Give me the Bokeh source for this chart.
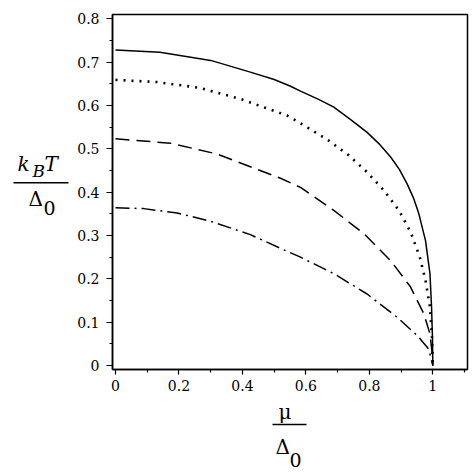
from bokeh.plotting import figure
from bokeh.models import FixedTicker, Range1d
from bokeh.layouts import row, column
from bokeh.core.properties import value
from bokeh.embed import file_html
from bokeh.resources import INLINE

# ---- data ----
mu_solid = [0, 0.14, 0.30, 0.425, 0.50, 0.55, 0.583, 0.64, 0.688, 0.74, 0.793, 0.83, 0.867, 0.895, 0.919, 0.94, 0.956, 0.977, 0.991, 0.996, 0.999, 1.0]
T_solid = [0.728, 0.723, 0.704, 0.677, 0.660, 0.645, 0.633, 0.614, 0.596, 0.568, 0.538, 0.512, 0.481, 0.452, 0.419, 0.385, 0.350, 0.288, 0.212, 0.135, 0.06, 0.0]

mu_dot = [0, 0.131, 0.263, 0.394, 0.54, 0.583, 0.672, 0.735, 0.793, 0.846, 0.893, 0.930, 0.959, 0.977, 0.991, 0.997, 1.0]
T_dot = [0.659, 0.654, 0.641, 0.615, 0.577, 0.559, 0.519, 0.485, 0.446, 0.404, 0.358, 0.308, 0.250, 0.196, 0.135, 0.07, 0.0]

mu_dash = [0, 0.173, 0.32, 0.52, 0.583, 0.688, 0.783, 0.867, 0.930, 0.972, 0.991, 0.998, 1.0]
T_dash = [0.523, 0.513, 0.488, 0.432, 0.411, 0.358, 0.304, 0.242, 0.181, 0.119, 0.073, 0.027, 0.0]

mu_dashdot = [0, 0.089, 0.194, 0.299, 0.425, 0.533, 0.583, 0.688, 0.793, 0.888, 0.951, 0.987, 1.0]
T_dashdot = [0.364, 0.362, 0.352, 0.333, 0.302, 0.266, 0.250, 0.212, 0.165, 0.111, 0.069, 0.038, 0.0]

x_ticks = [0, 0.2, 0.4, 0.6, 0.8, 1]
x_tick_labels = ["0", "0.2", "0.4", "0.6", "0.8", "1"]
x_minor = [0.1, 0.3, 0.5, 0.7, 0.9, 1.1]
y_ticks = [0, 0.1, 0.2, 0.3, 0.4, 0.5, 0.6, 0.7, 0.8]
y_tick_labels = ["0", "0.1", "0.2", "0.3", "0.4", "0.5", "0.6", "0.7", "0.8"]
y_minor = [0.05, 0.15, 0.25, 0.35, 0.45, 0.55, 0.65, 0.75]

FONT = "DejaVu Serif"

# ---- main plot: 398 x 399, frame 355 x 355 ----
p = figure(width=398, height=399,
           x_range=Range1d(-0.0095, 1.1093), y_range=Range1d(-0.0092, 0.8099),
           output_backend="svg", toolbar_location=None,
           min_border_left=40, min_border_top=14, min_border_right=3, min_border_bottom=30)
p.background_fill_color = "white"
p.border_fill_color = "white"
p.grid.visible = False
p.outline_line_color = "black"
p.outline_line_width = 1.5
p.outline_line_alpha = 1.0

p.xaxis.ticker = FixedTicker(ticks=x_ticks, minor_ticks=x_minor)
p.yaxis.ticker = FixedTicker(ticks=y_ticks, minor_ticks=y_minor)
p.xaxis.major_label_overrides = dict(zip(x_ticks, x_tick_labels))
p.yaxis.major_label_overrides = dict(zip(y_ticks, y_tick_labels))

for ax in (p.xaxis[0], p.yaxis[0]):
    ax.axis_line_color = "black"
    ax.axis_line_width = 1.5
    ax.major_tick_line_color = "black"
    ax.minor_tick_line_color = "black"
    ax.major_tick_line_width = 1.2
    ax.minor_tick_line_width = 1.2
    ax.major_tick_in = 0
    ax.minor_tick_in = 0
    ax.minor_tick_out = 3
    ax.major_label_text_font = FONT
    ax.major_label_text_font_size = "14px"
    ax.major_label_text_color = "black"
p.xaxis.major_tick_out = 5
p.yaxis.major_tick_out = 6
p.xaxis.major_label_standoff = 5
p.yaxis.major_label_standoff = 7

p.line(mu_solid, T_solid, line_color="black", line_width=1.5)
p.line(mu_dot, T_dot, line_color="black", line_width=2.6, line_dash="2 6")
p.line(mu_dash, T_dash, line_color="black", line_width=1.5, line_dash="14 7")
p.line(mu_dashdot, T_dashdot, line_color="black", line_width=1.5, line_dash="14 5 2 5")

# ---- label panels (coordinates = page pixels, y downward) ----
def panel(x0, x1, y0, y1):
    f = figure(width=int(x1 - x0), height=int(y1 - y0),
               x_range=Range1d(x0, x1), y_range=Range1d(y1, y0),
               output_backend="svg", toolbar_location=None,
               x_axis_type=None, y_axis_type=None,
               min_border=0, min_border_left=0, min_border_right=0,
               min_border_top=0, min_border_bottom=0)
    f.grid.visible = False
    f.outline_line_color = None
    f.background_fill_color = "white"
    f.border_fill_color = "white"
    return f

def txt(f, x, y, t, size, style="normal"):
    f.text(x=[x], y=[y], text=[t], text_font=value(FONT), text_font_size=value(size),
           text_font_style=style, text_color="black",
           text_baseline="alphabetic", text_align="left")

def bar(f, x0, x1, y):
    f.line([x0, x1], [y, y], line_color="black", line_width=1.5)

left = panel(0, 72, 0, 399)
txt(left, 17, 168, "k", "20px", "italic")
txt(left, 32, 176, "B", "17px", "italic")
txt(left, 44, 168, "T", "20px", "italic")
bar(left, 13, 68, 189)
txt(left, 28, 207, "Δ", "20px")
txt(left, 43, 218, "0", "19px")

bottom = panel(0, 470, 399, 474)
txt(bottom, 278, 411.5, "μ", "20px")
bar(bottom, 272, 306, 424)
txt(bottom, 275, 446, "Δ", "20px")
txt(bottom, 289, 459, "0", "19px")

layout = column(row(left, p, spacing=0), bottom, spacing=0)
open("out.html", "w").write(file_html(layout, INLINE))
